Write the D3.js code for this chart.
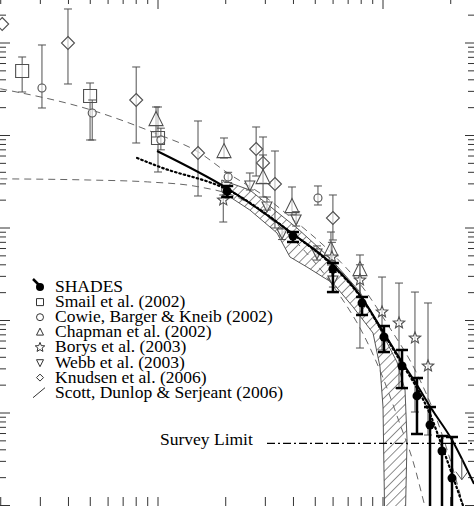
<!DOCTYPE html>
<html><head><meta charset="utf-8">
<script src="https://cdn.jsdelivr.net/npm/d3@7"></script>
<style>body{margin:0;background:#fff}svg{display:block}</style>
</head><body>
<script>
// ---------- DATA (flux S in mJy, cumulative counts N) ----------
// SHADES: [S, N, Nlow, Nhigh]
const shades = [
  [2.03, 2512, 2163, 2846], [3.98, 819, 706, 905], [5.99, 360, 203, 418],
  [8.07, 154.6, 114.7, 179.6], [10.1, 66.3, 45.6, 87.2], [12.15, 32.2, 18.6, 48],
  [14.16, 15.3, 5.93, 23.9], [16.18, 7.42, 0.05, 11.6], [18.29, 3.88, 0.05, 5.64],
  [20.26, 1.98, 0.05, 5.5]
];
const shadesFit = [[0.99,6797],[2.05,2640],[3.98,861],[5.99,398],[8.07,175],[10.1,73.2],
  [12.15,35.6],[14.16,20.1],[16.35,11.3],[20.26,5.11],[25.38,1.71]];
const dottedFit = [[0.807,5713],[1.02,4564],[2.05,2575],[3.98,861],[5.99,388],[8.07,170.8],
  [10.1,71.5],[12.15,33.9],[14.16,18.6],[16.18,9.75],[18.29,4.4],[20.47,2.03],[22.7,0.988]];
const dashedUpper = [[0.199,32000],[0.5,19000],[1.0,10300],[1.5,6700],[2.05,3900],[2.9,2300],
  [4.0,1230],[5.8,560],[8.0,240],[10.5,90],[14.0,28],[17.5,8],[21,2],[24,0.6]];
const dashedLower = [[0.199,3400],[0.5,3300],[0.9,3150],[1.5,2800],[2.3,2100],[3.3,1150],
  [4.5,560],[6.3,200],[8.2,70],[10.0,24],[11.8,8],[13.6,3],[15.5,0.9],[17,0.4]];
const scottUpper = [[1.92,3303],[2.56,2575],[3.38,1489],[4.147,1000],[5.81,474],[7.90,203],
  [10.0,69.7],[11.54,35.6],[12.53,17.7],[12.79,5.11],[12.53,0.5]];
const scottLower = [[10.2,0.5],[10.0,11.6],[9.70,31.4],[9.03,73.2],[7.36,140],[5.99,254],
  [5.41,295],[4.59,379],[3.86,486],[3.38,883],[2.56,1565],[2.09,2163],[1.92,2451]];
// other surveys: [S, N, Nlow, Nhigh]
const smail = [[0.249,49810,29540,70600],[0.499,26730,8943,36950],[1.0,9397,4031,20330]];
const cowie = [[0.305,32620,19830,95150],[0.51,17510,8943,24200],[1.03,8943,7000,12000],
  [2.05,3558,3100,4000],[5.14,2110,1773,2846]];
const chapman = [[0.98,14710,9634,20330],[1.965,6630,5713,9397],[2.93,3472,3065,6155],
  [3.94,1687,1382,2775],[5.87,578,398,905],[7.90,351.5,50.4,511]];
const borys = [[1.95,2008,1161,2274],[5.93,486,300,700],[7.9,274,180,400],[9.9,123.6,48,295],
  [11.78,94,18.6,254],[13.87,64.7,10.25,203],[15.85,32.2,5.78,154.6]];
const webb = [[2.56,2916,2575,3932],[3.05,1729,1565,2163],[3.56,883,750,1000],[4.11,1251,1050,1500],
  [5.09,537,450,640],[5.99,274,230,330]];
const knudsen = [[0.203,160500,160500,160500],[0.398,100000,36050,233200],[0.80,24200,8297,55030],
  [1.506,6468,2218,14350],[2.73,7146,3648,12360],[2.93,5045,2163,9634],[3.31,2990,1000,6797],
  [5.99,1283,742,2274]];
const surveyLimitN = 4.7;
const surveyLimitLabel = "Survey Limit";
const legendLabels = ["SHADES","Smail et al. (2002)","Cowie, Barger & Kneib (2002)",
  "Chapman et al. (2002)","Borys et al. (2003)","Webb et al. (2003)","Knudsen et al. (2006)",
  "Scott, Dunlop & Serjeant (2006)"];
const arrowS = 22.4, arrowN = [3.2, 1.9];

// ---------- CHART ----------
const W = 474, H = 506;
const svg = d3.select("body").append("svg").attr("width", W).attr("height", H)
  .style("font-family", "'Liberation Serif','Times New Roman',serif");
const x = d3.scaleLog().domain([1, 10]).range([158, 383]);
const y = d3.scaleLog().domain([10, 1e5]).range([413, 43]);
const gray = "#505050";

svg.append("defs").append("pattern").attr("id","hatch").attr("patternUnits","userSpaceOnUse")
  .attr("width",6.5).attr("height",6.5).attr("patternTransform","rotate(45)")
  .append("line").attr("x1",0).attr("y1",0).attr("x2",0).attr("y2",6.5)
  .attr("stroke","#333").attr("stroke-width",1.1);

// ticks
const xt = d3.scaleLog().domain([x.invert(-5), x.invert(W + 5)]).ticks();
const yt = d3.scaleLog().domain([y.invert(H + 5), y.invert(-5)]).ticks();
const isMajor = v => Math.abs(Math.log10(v) - Math.round(Math.log10(v))) < 1e-6;
const tg = svg.append("g").attr("stroke", "#333").attr("stroke-width", 1);
yt.forEach(v => {
  const L = isMajor(v) ? 10 : 6;
  tg.append("line").attr("x1", 0).attr("x2", L).attr("y1", y(v)).attr("y2", y(v));
  tg.append("line").attr("x1", W).attr("x2", W - (isMajor(v) ? 9 : 6)).attr("y1", y(v)).attr("y2", y(v));
});
xt.forEach(v => {
  tg.append("line").attr("x1", x(v)).attr("x2", x(v)).attr("y1", H).attr("y2", H - 9);
  tg.append("line").attr("x1", x(v)).attr("x2", x(v)).attr("y1", 0).attr("y2", isMajor(v) ? 9 : 4);
});

const line = d3.line().x(d => x(d[0])).y(d => y(d[1]));
const curve = d3.line().x(d => x(d[0])).y(d => y(d[1])).curve(d3.curveMonotoneX);

// hatched region
svg.append("path").attr("d", line(scottUpper.concat(scottLower)) + "Z")
  .attr("fill", "url(#hatch)").attr("stroke", "#444").attr("stroke-width", 0.9);

// dashed model curves
[dashedUpper, dashedLower].forEach(arr => svg.append("path").attr("d", curve(arr))
  .attr("fill", "none").attr("stroke", "#666").attr("stroke-width", 1).attr("stroke-dasharray", "7,5"));

// symbols
const sym = {
  square: s => `M${-s/2},${-s/2}h${s}v${s}h${-s}Z`,
  circle: s => `M${-s/2},0a${s/2},${s/2} 0 1,0 ${s},0a${s/2},${s/2} 0 1,0 ${-s},0Z`,
  up: s => `M0,${-s*0.6}L${s/2},${s*0.4}L${-s/2},${s*0.4}Z`,
  down: s => `M0,${s*0.6}L${s/2},${-s*0.4}L${-s/2},${-s*0.4}Z`,
  diamond: s => `M0,${-s/2}L${s/2},0L0,${s/2}L${-s/2},0Z`,
  star: s => { let p = ""; for (let i = 0; i < 10; i++) { const r = i % 2 ? s*0.22 : s/2;
      const a = -Math.PI/2 + i*Math.PI/5; p += (i ? "L" : "M") + (r*Math.cos(a)).toFixed(2) + "," + (r*Math.sin(a)).toFixed(2); }
    return p + "Z"; }
};
function drawSet(data, shape, size) {
  const g = svg.append("g");
  data.forEach(d => {
    const cx = x(d[0]);
    if (d[2] !== d[3]) {
      g.append("line").attr("x1", cx).attr("x2", cx).attr("y1", y(d[2])).attr("y2", y(d[3]))
        .attr("stroke", gray).attr("stroke-width", 1);
      [d[2], d[3]].forEach(v => g.append("line").attr("x1", cx - 4).attr("x2", cx + 4)
        .attr("y1", y(v)).attr("y2", y(v)).attr("stroke", gray).attr("stroke-width", 1));
    }
    g.append("path").attr("d", sym[shape](size)).attr("transform", `translate(${cx},${y(d[1])})`)
      .attr("fill", "#fff").attr("fill-opacity", 0.6).attr("stroke", gray).attr("stroke-width", 1.1);
  });
}
drawSet(knudsen, "diamond", 13);
drawSet(smail, "square", 13);
drawSet(cowie, "circle", 8);
drawSet(chapman, "up", 14);
drawSet(borys, "star", 12);
drawSet(webb, "down", 10);

// fits
svg.append("path").attr("d", curve(dottedFit)).attr("fill", "none").attr("stroke", "#000")
  .attr("stroke-width", 2.2).attr("stroke-dasharray", "1.5,3").attr("stroke-linecap", "round");
svg.append("path").attr("d", curve(shadesFit)).attr("fill", "none").attr("stroke", "#000").attr("stroke-width", 2);

// SHADES
const sg = svg.append("g");
shades.forEach(d => {
  const cx = x(d[0]);
  sg.append("line").attr("x1", cx).attr("x2", cx).attr("y1", y(d[2])).attr("y2", y(d[3]))
    .attr("stroke", "#000").attr("stroke-width", 2.5);
  [d[2], d[3]].forEach(v => sg.append("line").attr("x1", cx - 6).attr("x2", cx + 6)
    .attr("y1", y(v)).attr("y2", y(v)).attr("stroke", "#000").attr("stroke-width", 2.5));
  sg.append("circle").attr("cx", cx).attr("cy", y(d[1])).attr("r", 4.5).attr("fill", "#000");
});

// survey limit
svg.append("line").attr("x1", 267).attr("x2", W).attr("y1", y(surveyLimitN)).attr("y2", y(surveyLimitN))
  .attr("stroke", "#000").attr("stroke-width", 1.3).attr("stroke-dasharray", "8,3,2,3");
svg.append("text").attr("x", 160).attr("y", y(surveyLimitN) + 2).attr("font-size", 17.5).text(surveyLimitLabel);

// arrow (upper limit)
const ax = x(arrowS), ay1 = y(arrowN[0]), ay2 = y(arrowN[1]);
svg.append("path").attr("d", `M${ax},${ay1}V${ay2}M${ax-6},${ay2-8}L${ax},${ay2}L${ax+6},${ay2-8}`)
  .attr("fill", "none").attr("stroke", gray).attr("stroke-width", 1);

// legend
const lg = svg.append("g");
const shapes = [null, "square", "circle", "up", "star", "down", "diamond", null];
legendLabels.forEach((t, i) => {
  const by = 292 + i * 15.1, cy = by - 5;
  lg.append("text").attr("x", 55).attr("y", by).attr("font-size", 17.5).text(t);
  if (i === 0) {
    lg.append("line").attr("x1", 33).attr("y1", cy - 8).attr("x2", 40).attr("y2", cy - 1)
      .attr("stroke", "#000").attr("stroke-width", 2.5);
    lg.append("circle").attr("cx", 40).attr("cy", cy).attr("r", 4).attr("fill", "#000");
  } else if (i === 7) {
    lg.append("line").attr("x1", 33).attr("y1", cy + 5).attr("x2", 45).attr("y2", cy - 5)
      .attr("stroke", "#333").attr("stroke-width", 1);
  } else {
    lg.append("path").attr("d", sym[shapes[i]](shapes[i] === "star" ? 10 : 7))
      .attr("transform", `translate(40,${cy})`).attr("fill", "none").attr("stroke", "#333").attr("stroke-width", 1);
  }
});
</script>
</body></html>
